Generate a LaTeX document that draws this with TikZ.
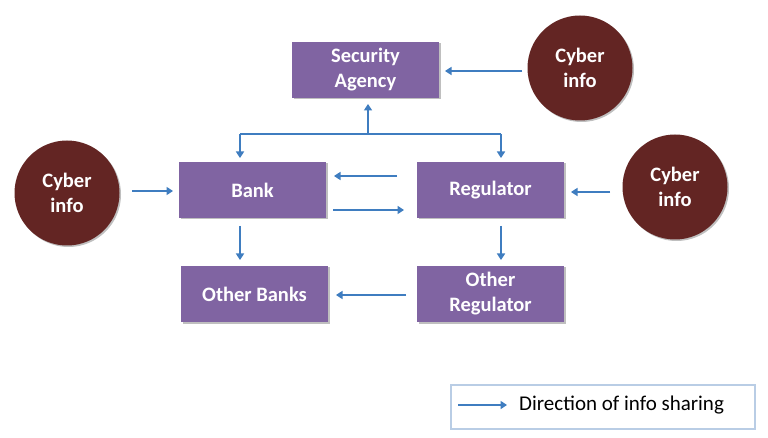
\documentclass[tikz,border=0pt]{standalone}
\usepackage{fontspec}
\setmainfont{Carlito}
\usetikzlibrary{arrows.meta,shadows}
\definecolor{boxpurple}{HTML}{8064A2}
\definecolor{cyberred}{HTML}{632523}
\definecolor{arrowblue}{HTML}{3F7DC0}
\definecolor{legendborder}{HTML}{B9CDE5}
\tikzset{
  unitbox/.style={rectangle, fill=boxpurple, draw=none, minimum width=147pt, minimum height=56pt,
    text=white, font=\fontsize{20.5}{25}\selectfont\bfseries, align=center, inner sep=0pt,
    drop shadow={shadow xshift=1.5pt, shadow yshift=-1.5pt, fill=black, opacity=0.25}},
  cyber/.style={circle, fill=cyberred, minimum size=105pt, inner sep=0pt,
    text=white, font=\fontsize{20.5}{25}\selectfont\bfseries, align=center,
    drop shadow={shadow xshift=1.5pt, shadow yshift=-1.5pt, fill=black, opacity=0.25}},
  flow/.style={draw=arrowblue, line width=2.1pt, -{Triangle[width=8pt,length=6.5pt]}},
  plain/.style={draw=arrowblue, line width=2.1pt}
}
\begin{document}
\begin{tikzpicture}[x=1pt,y=-1pt]
\useasboundingbox (0,0) rectangle (768,438);
\fill[white] (0,0) rectangle (768,438);
% boxes
\node[unitbox] (sec) at (365.5,70) {Security\\Agency};
\node[unitbox] (bank) at (252.5,190) {Bank};
\node[unitbox] (reg) at (490.5,190) {Regulator};
\node[unitbox] (obanks) at (254.5,294) {Other Banks};
\node[unitbox] (oreg) at (490.5,294) {Other\\Regulator};
% circles
\node[cyber] (c1) at (580,68) {Cyber\\info};
\node[cyber] (c2) at (67,193) {Cyber\\info};
\node[cyber] (c3) at (675,187) {Cyber\\info};
% tree coordinates
\coordinate (tl) at (240,134);
\coordinate (tm) at (368,134);
\coordinate (tr) at (501,134);
\path[plain] (tl) -- (tr);
\path[flow] (tm) -- (368,104);
\path[flow] (tl) -- (240,158);
\path[flow] (tr) -- (501,158);
% arrows
\path[flow] (522,71) -- (445,71);
\path[flow] (132,191) -- (173,191);
\path[flow] (610,192) -- (571,192);
\path[flow] (397,176) -- (334,176);
\path[flow] (333,210) -- (404,210);
\path[flow] (240,226) -- (240,260);
\path[flow] (501,226) -- (501,260);
\path[flow] (406,295) -- (336,295);
% legend
\node[draw=legendborder, line width=1.2pt, minimum width=304pt, minimum height=44pt, inner sep=0pt] (leg) at (603,407) {};
\coordinate (la) at (458,405);
\coordinate (lb) at (507,405);
\path[flow] (la) -- (lb);
\node[anchor=west, font=\fontsize{21}{23}\selectfont, inner sep=0pt] (legtext) at (519,405) {Direction of info sharing};
\end{tikzpicture}
\end{document}
